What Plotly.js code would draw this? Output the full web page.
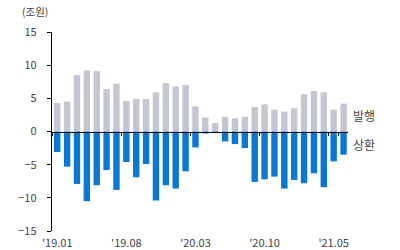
<!DOCTYPE html>
<html><head><meta charset="utf-8">
<script src="https://cdn.plot.ly/plotly-3.0.1.min.js"></script>
<style>html,body{margin:0;padding:0;background:#fff}#c{width:400px;height:250px}</style>
</head><body><div id="c"></div>
<script>
const months = ["'19.01","'19.02","'19.03","'19.04","'19.05","'19.06","'19.07","'19.08","'19.09","'19.10","'19.11","'19.12",
"'20.01","'20.02","'20.03","'20.04","'20.05","'20.06","'20.07","'20.08","'20.09","'20.10","'20.11","'20.12",
"'21.01","'21.02","'21.03","'21.04","'21.05","'21.06"];
const issuance = [4.3,4.5,8.5,9.2,9.1,6.4,7.2,4.6,4.9,4.9,5.9,7.3,6.8,7.0,3.8,2.1,1.3,2.2,2.0,2.2,3.7,4.1,3.3,3.0,3.5,5.6,6.1,5.9,3.3,4.2];
const redemption = [-3.1,-5.3,-7.9,-10.5,-8.1,-5.8,-8.8,-4.6,-6.9,-4.9,-10.4,-8.1,-8.6,-6.0,-2.4,-0.3,-0.1,-1.5,-1.9,-2.5,-7.6,-7.2,-6.8,-8.6,-7.3,-7.8,-6.3,-8.4,-4.5,-3.5];
const tickMonths = ["'19.01","'19.08","'20.03","'20.10","'21.05"];
const unitLabel = "(조원)";
const issueName = "발행";
const redeemName = "상환";

const FONT = "'Noto Sans CJK KR', 'Noto Sans', sans-serif";
const xr = [-0.53, 29.45];

const traces = [
  {type:'bar', x:months, y:issuance, name:issueName, marker:{color:'#c4c6d2'}, hoverinfo:'skip'},
  {type:'bar', x:months, y:redemption, name:redeemName, marker:{color:'#0a77d0'}, hoverinfo:'skip'},
  {type:'scatter', x:months, y:months.map(()=>null), xaxis:'x2', yaxis:'y', mode:'none', showlegend:false, hoverinfo:'skip'}
];

const layout = {
  width:400, height:250,
  margin:{l:52, r:52, t:32, b:19},
  paper_bgcolor:'#fff', plot_bgcolor:'#fff',
  showlegend:false,
  barmode:'relative', bargap:0.35,
  font:{family:FONT, color:'#444', size:11},
  xaxis:{type:'category', range:xr, showline:false, showgrid:false, zeroline:false,
    ticks:'', tickmode:'array', tickvals:tickMonths, ticktext:tickMonths,
    tickfont:{size:11, color:'#444'}, ticklabelstandoff:4, fixedrange:true},
  xaxis2:{type:'category', overlaying:'x', anchor:'free', position:0.5, range:xr,
    showline:true, linecolor:'#000', linewidth:1.5, layer:'above traces',
    ticks:'outside', ticklen:3, tickwidth:1, tickcolor:'#000', tickson:'boundaries',
    tickmode:'array', tickvals:tickMonths, showticklabels:false, showgrid:false, zeroline:false},
  yaxis:{range:[-15,15], dtick:5, tick0:0, showline:true, linecolor:'#000', linewidth:1.2,
    ticks:'outside', ticklen:4, tickcolor:'#000', showgrid:false, zeroline:false,
    layer:'above traces', tickfont:{size:11, color:'#444'}, ticklabelstandoff:8},
  annotations:[
    {xref:'paper', yref:'paper', x:0, y:1, xanchor:'right', yanchor:'middle', xshift:-2, yshift:21,
     text:unitLabel, showarrow:false, font:{size:10.5, color:'#444'}},
    {x:months[months.length-1], y:2.4, xref:'x', yref:'y', xanchor:'left', yanchor:'middle', xshift:7,
     text:issueName, showarrow:false, font:{size:12, color:'#444'}},
    {x:months[months.length-1], y:-1.9, xref:'x', yref:'y', xanchor:'left', yanchor:'middle', xshift:7,
     text:redeemName, showarrow:false, font:{size:12, color:'#444'}}
  ]
};
Plotly.newPlot('c', traces, layout, {staticPlot:true, displayModeBar:false});
</script></body></html>
